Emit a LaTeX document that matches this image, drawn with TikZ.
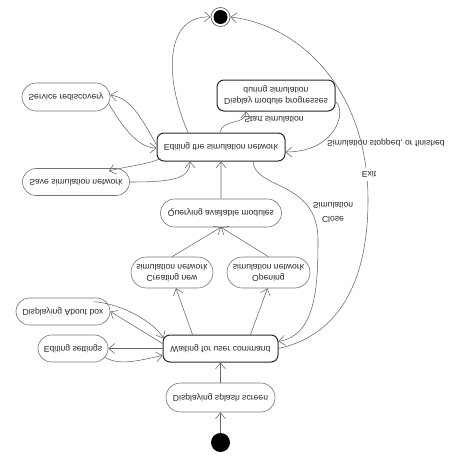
\documentclass[tikz,border=0pt]{standalone}
\usepackage{fontspec}
\setmainfont{Liberation Sans}
\usepackage{graphicx}
\usetikzlibrary{arrows.meta,shapes.misc}
\newcommand\fl[1]{\scalebox{1}[-1]{\begin{tabular}{@{}c@{}}#1\end{tabular}}}
\begin{document}
\begin{tikzpicture}[x=1pt,y=-1pt,
 every node/.style={font=\fontsize{8.6}{11}\selectfont, text=black!85},
 stad/.style={rounded rectangle, draw=black!55, line width=0.6pt, inner sep=0pt},
 rbox/.style={rectangle, rounded corners=7pt, draw=black!85, line width=1pt, inner sep=0pt},
 lbl/.style={inner sep=1pt},
 tr/.style={draw=black!60, line width=0.55pt, -{Straight Barb[length=6pt,width=10pt]}},
]
\useasboundingbox (0,0) rectangle (474,472);
\node[circle, fill=black, minimum size=19pt, inner sep=0pt] (start) at (220.5,442.5) {};
\node[circle, draw=black!60, line width=0.7pt, minimum size=19pt, inner sep=0pt] (end) at (220.5,17) {};
\fill (end.center) circle (7pt);

\node[stad, minimum width=109pt, minimum height=29pt] (splash) at (220.5,397.5) {\fl{Displaying splash screen}};
\node[rbox, minimum width=115pt, minimum height=27pt] (wait) at (220.5,348.5) {\fl{Waiting for user command}};
\node[stad, minimum width=70pt, minimum height=27pt] (settings) at (73,348.5) {\fl{Editing settings}};
\node[stad, minimum width=94pt, minimum height=27pt] (about) at (63,311.5) {\fl{Displaying About box}};
\node[stad, minimum width=82pt, minimum height=31pt] (create) at (172,272.5) {\fl{Creating new\\simulation network}};
\node[stad, minimum width=83pt, minimum height=31pt] (open) at (268.5,272.5) {\fl{Opening\\simulation network}};
\node[stad, minimum width=121pt, minimum height=28pt] (query) at (221,213) {\fl{Querying available modules}};
\node[stad, minimum width=107pt, minimum height=27pt] (save) at (76,182) {\fl{Save simulation network}};
\node[rbox, minimum width=128pt, minimum height=28pt] (edit) at (221,147) {\fl{Editing the simulation network}};
\node[stad, minimum width=88pt, minimum height=28pt] (service) at (66,97) {\fl{Service rediscovery}};
\node[rbox, minimum width=118pt, minimum height=31pt] (display) at (276,95.5) {\fl{Display module progresses\\during simulation}};

\node[lbl] (lstart) at (274,119) {\fl{Start simulation}};
\node[lbl] (lstop) at (386,143) {\fl{Simulation stopped, or finished}};
\node[lbl] (lclose) at (333,212) {\fl{Close\\[3pt]Simulation}};

\draw[tr] (start) -- (splash);
\draw[tr] (splash) -- (wait);
\draw[tr] ([xshift=-28pt]wait.north) -- ([xshift=4pt]create.south);
\draw[tr] ([xshift=30pt]wait.north) -- ([xshift=-1pt]open.south);
\draw[tr] (create.north) -- (query.south);
\draw[tr] (open.north) -- (query.south);
\draw[tr] (query) -- (edit);
\draw[tr] ([xshift=-1pt]edit.north) .. controls +(2,-14) and +(0,14) .. ([xshift=-30pt]display.south);
\draw[tr] ([yshift=-6pt]display.east) .. controls +(12,10) and +(50,0) .. ([yshift=-5pt]edit.east);
\draw[tr] ([xshift=-33pt]edit.north) .. controls (163,75) and (166,15) .. (end.west);
\draw[tr] (wait.east) .. controls (340,335) and (368,280) .. (368,200) .. controls (368,90) and (300,25) .. (end.east);
\node[lbl, fill=white] (lexit) at (369,174) {\fl{Exit}};
\draw[tr] ([xshift=32pt]edit.south) .. controls (255,190) and (318,180) .. (318,240) .. controls (318,290) and (315,335) .. ([yshift=7pt]wait.east);
\draw[tr] ([yshift=2pt]edit.west) .. controls (140,115) and (130,98) .. ([yshift=2pt]service.east);
\draw[tr] ([xshift=-2pt,yshift=-6pt]service.east) .. controls +(12,20) and +(-20,0) .. ([yshift=-1pt]edit.west);
\draw[tr] ([xshift=4pt,yshift=3pt]edit.south west) .. controls +(-12,6) and +(12,-4) .. ([xshift=-7pt,yshift=-3pt]save.north east);
\draw[tr] (save.east) .. controls +(40,0) and +(0,18) .. ([xshift=-31pt]edit.south);
\draw[tr] ([xshift=-3pt,yshift=-4pt]about.north east) .. controls +(30,2) and +(-8,-15) .. ([xshift=1pt,yshift=10pt]wait.west);
\draw[tr] ([yshift=5pt]wait.west) -- (about.east);
\draw[tr] (wait.west) -- (settings.east);
\draw[tr] ([xshift=-3pt,yshift=-9pt]settings.east) .. controls +(15,9) and +(-20,4) .. ([yshift=-7pt]wait.west);
\end{tikzpicture}
\end{document}
